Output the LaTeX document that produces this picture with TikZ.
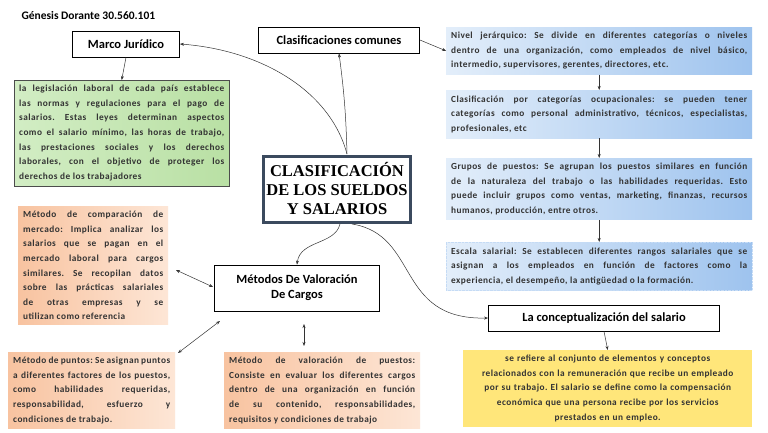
\documentclass[tikz,border=0pt]{standalone}
\usepackage{fontspec}
\setmainfont{Carlito}
\newfontfamily\bodyfont[LetterSpace=5]{Carlito}
\newfontfamily\titlefont{Liberation Serif}
\newcommand\bodyset{\bodyfont\bfseries\fontsize{9.3}{14.6}\selectfont\frenchspacing\hyphenpenalty=10000\exhyphenpenalty=10000\relax}
\newcommand\lb{\linebreak}
\usetikzlibrary{arrows.meta}
\definecolor{grn}{HTML}{D2EDC4}
\definecolor{grnd}{HTML}{B9E0A4}
\definecolor{org}{HTML}{F8C3A0}
\definecolor{orgl}{HTML}{FDE6D6}
\definecolor{blu}{HTML}{9EC3EE}
\definecolor{blul}{HTML}{E3EEFA}
\definecolor{yel}{HTML}{FFE67A}
\definecolor{frame}{HTML}{3B4A5E}
\tikzset{
  lbl/.style={draw=black,fill=white,line width=0.8pt,font=\bfseries\fontsize{12.5}{15}\selectfont,align=center,inner sep=3pt},
  txt/.style={font=\bodyset,align=justify,inner sep=5pt,anchor=north west,text=black!80},
  gbox/.style={txt,draw=black!70,left color=grn,right color=grnd},
  obox/.style={txt,left color=org,right color=orgl},
  bbox/.style={txt,left color=blul,right color=blu},
  ybox/.style={txt,fill=yel},
  arr/.style={-{Stealth[length=4pt,width=3pt]},line width=0.5pt,black!80},
  darr/.style={{Stealth[length=4pt,width=3pt]}-{Stealth[length=4pt,width=3pt]},line width=0.5pt,black!80}
}
\begin{document}
\begin{tikzpicture}[x=1pt,y=-1pt]
\useasboundingbox[fill=white] (0,0) rectangle (768,433);
\node[anchor=west,font=\bfseries\fontsize{11.5}{13}\selectfont] (name) at (18,16) {Génesis Dorante 30.560.101};
\node[lbl,minimum width=107pt,minimum height=26pt] (marco) at (126,44) {Marco Jurídico};
\node[gbox,text width=205pt,minimum height=100pt] (green) at (14,80) {la legislación laboral de cada país establece\lb las normas y regulaciones para el pago de\lb salarios. Estas leyes determinan aspectos\lb como el salario mínimo, las horas de trabajo,\lb las prestaciones sociales y los derechos\lb laborales, con el objetivo de proteger los\lb derechos de los trabajadores};
\node[lbl,minimum width=161pt,minimum height=26pt] (clas) at (339,40) {Clasificaciones comunes};
\node[draw=frame,line width=3pt,fill=white,minimum width=145pt,minimum height=66pt,align=center,font=\titlefont\bfseries\fontsize{16.5}{19}\selectfont] (main) at (337,189) {CLASIFICACIÓN\\DE LOS SUELDOS\\Y SALARIOS};
\node[bbox,text width=296pt,minimum height=36pt] (b1) at (446,27) {Nivel jerárquico: Se divide en diferentes categorías o niveles\lb dentro de una organización, como empleados de nivel básico,\lb intermedio, supervisores, gerentes, directores, etc.};
\node[bbox,text width=296pt,minimum height=48pt] (b2) at (446,90) {Clasificación por categorías ocupacionales: se pueden tener\lb categorías como personal administrativo, técnicos, especialistas,\lb profesionales, etc};
\node[bbox,text width=296pt,minimum height=60pt] (b3) at (446,158) {Grupos de puestos: Se agrupan los puestos similares en función\lb de la naturaleza del trabajo o las habilidades requeridas. Esto\lb puede incluir grupos como ventas, marketing, finanzas, recursos\lb humanos, producción, entre otros.};
\node[bbox,draw=blu!60,densely dotted,text width=296pt,minimum height=48pt] (b4) at (446,242) {Escala salarial: Se establecen diferentes rangos salariales que se\lb asignan a los empleados en función de factores como la\lb experiencia, el desempeño, la antigüedad o la formación.};
\node[lbl,minimum width=231pt,minimum height=26pt] (conc) at (604,318) {La conceptualización del salario};
\node[ybox,align=center,text width=279pt,minimum height=73pt,inner xsep=5pt] (yel) at (463,350) {se refiere al conjunto de elementos y conceptos\\ relacionados con la remuneración que recibe un empleado\\ por su trabajo. El salario se define como la compensación\\ económica que una persona recibe por los servicios\\ prestados en un empleo.};
\node[lbl,minimum width=165pt,minimum height=46pt] (met) at (297,288) {Métodos De Valoración\\De Cargos};
\node[obox,text width=140pt,minimum height=117pt] (comp) at (18,206) {Método de comparación de\lb mercado: Implica analizar los\lb salarios que se pagan en el\lb mercado laboral para cargos\lb similares. Se recopilan datos\lb sobre las prácticas salariales\lb de otras empresas y se\lb utilizan como referencia};
\node[obox,text width=157pt,minimum height=76pt] (pts) at (8,352) {Método de puntos: Se asignan puntos\lb a diferentes factores de los puestos,\lb como habilidades requeridas,\lb responsabilidad, esfuerzo y\lb condiciones de trabajo.};
\node[obox,text width=186pt,minimum height=71pt] (val) at (224,352) {Método de valoración de puestos:\lb Consiste en evaluar los diferentes cargos\lb dentro de una organización en función\lb de su contenido, responsabilidades,\lb requisitos y condiciones de trabajo};
\coordinate (mt) at (347,154);
\draw[arr] (mt) to[bend right=3] (clas.south);
\draw[arr] (mt) .. controls (330,90) and (260,50) .. (marco.east);
\draw[arr] (marco.south) -- (green.north);
\draw[arr] (clas.east) -- (b1.west);
\draw[arr] (b1.south) -- (b2.north);
\draw[arr] (b2.south) -- (b3.north);
\draw[arr] (b3.south) -- (b4.north);
\draw[arr] (340,224) .. controls (335,245) and (300,240) .. (met.north);
\draw[arr] (352,224) .. controls (420,235) and (395,320) .. (conc.west);
\draw[arr] (conc.south) -- (yel.north);
\draw[darr] (176,270) -- (213,287);
\draw[darr] (178,353) -- (220,321);
\draw[darr] (304,324) -- (304,346);
\end{tikzpicture}
\end{document}
